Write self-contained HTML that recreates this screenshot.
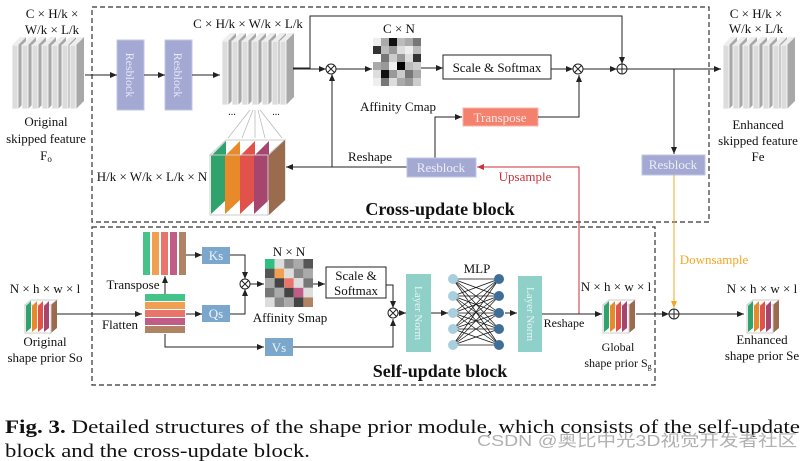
<!DOCTYPE html>
<html><head><meta charset="utf-8"><style>
html,body{margin:0;padding:0;background:#fff;}
svg{display:block;}
text{font-family:"Liberation Serif",serif;fill:#111;}
</style></head><body>
<svg width="807" height="461" viewBox="0 0 807 461" xmlns="http://www.w3.org/2000/svg">
<defs>
<marker id="a" markerWidth="8" markerHeight="8" refX="7" refY="4" orient="auto" markerUnits="userSpaceOnUse"><path d="M0,1 L7,4 L0,7 z" fill="#222"/></marker>
<marker id="ar" markerWidth="8" markerHeight="8" refX="7" refY="4" orient="auto" markerUnits="userSpaceOnUse"><path d="M0,1 L7,4 L0,7 z" fill="#c8323a"/></marker>
<marker id="ao" markerWidth="8" markerHeight="8" refX="7" refY="4" orient="auto" markerUnits="userSpaceOnUse"><path d="M0,1 L7,4 L0,7 z" fill="#f5a623"/></marker>
<g id="slab"><polygon points="0,8 8,0 8,64 0,72" fill="#a8a8a8"/><rect x="-6" y="8" width="6" height="64" fill="#dcdcdc" stroke="#fff" stroke-width="0.8"/><polygon points="-6,8 2,0 8,0 0,8" fill="#eee"/></g>
</defs>

<!-- dashed boxes -->
<rect x="92" y="7" width="617" height="215" fill="none" stroke="#333" stroke-width="1.2" stroke-dasharray="5,3"/>
<rect x="92" y="227" width="563" height="158" fill="none" stroke="#333" stroke-width="1.2" stroke-dasharray="5,3"/>

<!-- top-left stack -->
<g>
<use href="#slab" x="18" y="37"/><use href="#slab" x="28" y="37"/><use href="#slab" x="38" y="37"/><use href="#slab" x="48" y="37"/><use href="#slab" x="58" y="37"/><use href="#slab" x="68" y="37"/><use href="#slab" x="76" y="37"/>
</g>
<text x="52" y="18" font-size="13" text-anchor="middle">C × H/k ×</text>
<text x="52" y="34" font-size="13" text-anchor="middle">W/k × L/k</text>
<text x="46" y="126" font-size="13" text-anchor="middle">Original</text>
<text x="46" y="143" font-size="13" text-anchor="middle">skipped feature</text>
<text x="46" y="160" font-size="13" text-anchor="middle">F<tspan font-size="9" dy="2">o</tspan></text>

<!-- resblocks -->
<rect x="117" y="40" width="27" height="70" fill="#a3a9d3" stroke="#c2c6e4"/>
<text transform="translate(126,75) rotate(90)" font-size="12" text-anchor="middle" style="fill:#e6e8f5">Resblock</text>
<rect x="165" y="40" width="27" height="70" fill="#a3a9d3" stroke="#c2c6e4"/>
<text transform="translate(174,75) rotate(90)" font-size="12" text-anchor="middle" style="fill:#e6e8f5">Resblock</text>
<line x1="85" y1="75" x2="117" y2="75" stroke="#222" marker-end="url(#a)"/>
<line x1="144" y1="75" x2="165" y2="75" stroke="#222" marker-end="url(#a)"/>
<line x1="192" y1="75" x2="220" y2="75" stroke="#222" marker-end="url(#a)"/>

<!-- middle stack -->
<g>
<use href="#slab" x="228" y="33"/><use href="#slab" x="238" y="33"/><use href="#slab" x="248" y="33"/><use href="#slab" x="258" y="33"/><use href="#slab" x="268" y="33"/><use href="#slab" x="278" y="33"/><use href="#slab" x="286" y="33"/>
</g>
<text x="248" y="28" font-size="13" text-anchor="middle">C × H/k × W/k × L/k</text>
<text x="232" y="115" font-size="10" text-anchor="middle">...</text>
<text x="276" y="115" font-size="10" text-anchor="middle">...</text>
<g stroke="#bbb" stroke-width="0.8">
<line x1="250" y1="110" x2="228" y2="138"/><line x1="253" y1="110" x2="242" y2="138"/><line x1="255" y1="110" x2="255" y2="138"/><line x1="258" y1="110" x2="265" y2="138"/><line x1="260" y1="110" x2="282" y2="138"/>
</g>
<!-- colored cube -->
<g stroke="#ccc" stroke-width="1">
<polygon points="210,155 226,140 285,140 268,155" fill="#fff"/>
<polygon points="268,155 285,140 285,200 268,215" fill="#fff"/>
<rect x="210" y="155" width="58" height="60" fill="#fff"/>
</g>
<polygon points="211,156 226,141 226,200 211,214" fill="#2fa36b"/>
<polygon points="225,156 240,141 240,200 225,214" fill="#e88a2a"/>
<polygon points="240,156 255,141 255,200 240,214" fill="#e0524a"/>
<polygon points="254,156 269,141 269,200 254,214" fill="#a6456d"/>
<polygon points="269,155 285,140 285,200 269,215" fill="#9a6b4c"/>
<rect x="210" y="155" width="58" height="60" fill="none" stroke="#ccc"/>
<text x="152" y="181" font-size="13" text-anchor="middle">H/k × W/k × L/k × N</text>

<!-- skip line -->
<polyline points="293,68 310,68 310,16 622,16 622,64" fill="none" stroke="#222" marker-end="url(#a)"/>
<line x1="293" y1="69" x2="326" y2="69" stroke="#222" marker-end="url(#a)"/>
<circle cx="331" cy="69" r="5" fill="#fff" stroke="#222"/><path d="M327.5,65.5 L334.5,72.5 M334.5,65.5 L327.5,72.5" stroke="#222"/>
<line x1="332" y1="167" x2="332" y2="74" stroke="#222" marker-end="url(#a)"/>
<line x1="407" y1="167" x2="286" y2="167" stroke="#222" marker-end="url(#a)"/>
<text x="370" y="161" font-size="13" text-anchor="middle">Reshape</text>
<line x1="336" y1="69" x2="372" y2="69" stroke="#222" marker-end="url(#a)"/>

<!-- Cmap grid -->
<g>
<rect x="373" y="38" width="8" height="8" fill="#eee"/><rect x="381" y="38" width="8" height="8" fill="#aaa"/><rect x="389" y="38" width="8" height="8" fill="#111"/><rect x="397" y="38" width="8" height="8" fill="#bbb"/><rect x="405" y="38" width="8" height="8" fill="#aaa"/><rect x="413" y="38" width="8" height="8" fill="#777"/>
<rect x="373" y="46" width="8" height="8" fill="#333"/><rect x="381" y="46" width="8" height="8" fill="#bbb"/><rect x="389" y="46" width="8" height="8" fill="#999"/><rect x="397" y="46" width="8" height="8" fill="#ddd"/><rect x="405" y="46" width="8" height="8" fill="#eee"/><rect x="413" y="46" width="8" height="8" fill="#bbb"/>
<rect x="373" y="54" width="8" height="8" fill="#fff"/><rect x="381" y="54" width="8" height="8" fill="#777"/><rect x="389" y="54" width="8" height="8" fill="#ccc"/><rect x="397" y="54" width="8" height="8" fill="#999"/><rect x="405" y="54" width="8" height="8" fill="#ddd"/><rect x="413" y="54" width="8" height="8" fill="#333"/>
<rect x="373" y="62" width="8" height="8" fill="#aaa"/><rect x="381" y="62" width="8" height="8" fill="#999"/><rect x="389" y="62" width="8" height="8" fill="#eee"/><rect x="397" y="62" width="8" height="8" fill="#000"/><rect x="405" y="62" width="8" height="8" fill="#bbb"/><rect x="413" y="62" width="8" height="8" fill="#ccc"/>
<rect x="373" y="70" width="8" height="8" fill="#ddd"/><rect x="381" y="70" width="8" height="8" fill="#111"/><rect x="389" y="70" width="8" height="8" fill="#999"/><rect x="397" y="70" width="8" height="8" fill="#ccc"/><rect x="405" y="70" width="8" height="8" fill="#777"/><rect x="413" y="70" width="8" height="8" fill="#aaa"/>
<rect x="373" y="78" width="8" height="8" fill="#eee"/><rect x="381" y="78" width="8" height="8" fill="#777"/><rect x="389" y="78" width="8" height="8" fill="#ddd"/><rect x="397" y="78" width="8" height="8" fill="#aaa"/><rect x="405" y="78" width="8" height="8" fill="#999"/><rect x="413" y="78" width="8" height="8" fill="#ccc"/>
</g>
<text x="399" y="33" font-size="13" text-anchor="middle">C × N</text>
<text x="398" y="111" font-size="13" text-anchor="middle">Affinity Cmap</text>
<line x1="421" y1="68" x2="443" y2="68" stroke="#222" marker-end="url(#a)"/>
<rect x="443" y="55" width="108" height="24" fill="#fff" stroke="#222"/>
<text x="497" y="72" font-size="13" text-anchor="middle">Scale &amp; Softmax</text>
<line x1="551" y1="69" x2="573" y2="69" stroke="#222" marker-end="url(#a)"/>
<circle cx="578" cy="69" r="5" fill="#fff" stroke="#222"/><path d="M574.5,65.5 L581.5,72.5 M581.5,65.5 L574.5,72.5" stroke="#222"/>
<line x1="583" y1="69" x2="617" y2="69" stroke="#222" marker-end="url(#a)"/>
<circle cx="622" cy="69" r="5" fill="#fff" stroke="#222"/><path d="M617,69 H627 M622,64 V74" stroke="#222"/>
<line x1="627" y1="69" x2="721" y2="69" stroke="#222" marker-end="url(#a)"/>
<!-- transpose -->
<rect x="463" y="108" width="75" height="18" fill="#f4806e" stroke="#f9b3a7"/>
<text x="500" y="122" font-size="13" text-anchor="middle" style="fill:#fde8e4">Transpose</text>
<polyline points="538,117 579,117 579,75" fill="none" stroke="#222" marker-end="url(#a)"/>
<polyline points="435,158 435,117 462,117" fill="none" stroke="#222" marker-end="url(#a)"/>
<rect x="407" y="158" width="69" height="19" fill="#a3a9d3" stroke="#c2c6e4"/>
<text x="441" y="172" font-size="13" text-anchor="middle" style="fill:#eceef8">Resblock</text>
<polyline points="579,314 579,167 477,167" fill="none" stroke="#c8323a" marker-end="url(#ar)"/>
<text x="525" y="181" font-size="13" text-anchor="middle" style="fill:#c8323a">Upsample</text>
<text x="440" y="215" font-size="18" font-weight="bold" text-anchor="middle">Cross-update block</text>

<!-- enhanced stack -->
<g>
<use href="#slab" x="729" y="37"/><use href="#slab" x="739" y="37"/><use href="#slab" x="749" y="37"/><use href="#slab" x="759" y="37"/><use href="#slab" x="769" y="37"/><use href="#slab" x="779" y="37"/><use href="#slab" x="787" y="37"/>
</g>
<text x="756" y="18" font-size="13" text-anchor="middle">C × H/k ×</text>
<text x="756" y="33" font-size="13" text-anchor="middle">W/k × L/k</text>
<text x="758" y="129" font-size="13" text-anchor="middle">Enhanced</text>
<text x="758" y="145" font-size="13" text-anchor="middle">skipped feature</text>
<text x="758" y="161" font-size="13" text-anchor="middle">Fe</text>
<line x1="674" y1="69" x2="674" y2="154" stroke="#222" marker-end="url(#a)"/>
<rect x="642" y="155" width="63" height="20" fill="#a3a9d3" stroke="#c2c6e4"/>
<text x="673" y="169" font-size="13" text-anchor="middle" style="fill:#eceef8">Resblock</text>
<line x1="674" y1="175" x2="674" y2="308" stroke="#f5a623" marker-end="url(#ao)"/>
<text x="714" y="264" font-size="13" text-anchor="middle" style="fill:#f5a623">Downsample</text>

<!-- self-update -->
<!-- So cube -->
<g id="sc">
<polygon points="25,305 31,300 57,300 51,305" fill="#fff" stroke="#ccc"/>
<polygon points="51,305 57,300 57,328 51,333" fill="#9a6b4c"/>
<rect x="25" y="305" width="26" height="28" fill="#fff" stroke="#ccc"/>
<polygon points="26,306 31,301 31,328 26,332" fill="#2fa36b"/>
<polygon points="32,306 37,301 37,328 32,332" fill="#e88a2a"/>
<polygon points="38,306 43,301 43,328 38,332" fill="#e0524a"/>
<polygon points="44,306 49,301 49,328 44,332" fill="#a6456d"/>
</g>
<text x="45" y="293" font-size="13" text-anchor="middle">N × h × w × l</text>
<text x="45" y="346" font-size="13" text-anchor="middle">Original</text>
<text x="45" y="362" font-size="13" text-anchor="middle">shape prior So</text>
<line x1="57" y1="314" x2="142" y2="314" stroke="#222" marker-end="url(#a)"/>
<text x="120" y="329" font-size="13" text-anchor="middle">Flatten</text>
<!-- strips -->
<rect x="145" y="294" width="40" height="7" fill="#45c48a"/><rect x="145" y="302" width="40" height="7" fill="#f0a050"/><rect x="145" y="310" width="40" height="7" fill="#e8756c"/><rect x="145" y="318" width="40" height="7" fill="#c05c86"/><rect x="145" y="326" width="40" height="7" fill="#b08462"/>
<rect x="143" y="232" width="7" height="43" fill="#45c48a"/><rect x="152" y="232" width="7" height="43" fill="#f0a050"/><rect x="161" y="232" width="7" height="43" fill="#e8756c"/><rect x="170" y="232" width="7" height="43" fill="#c05c86"/><rect x="179" y="232" width="7" height="43" fill="#b08462"/>
<text x="133" y="289" font-size="13" text-anchor="middle">Transpose</text>
<line x1="165" y1="294" x2="165" y2="276" stroke="#222" marker-end="url(#a)"/>
<line x1="186" y1="255" x2="202" y2="255" stroke="#222" marker-end="url(#a)"/>
<line x1="186" y1="314" x2="202" y2="314" stroke="#222" marker-end="url(#a)"/>
<rect x="202" y="247" width="28" height="17" fill="#7ba7cc"/><text x="216" y="260" font-size="13" text-anchor="middle" style="fill:#eef4fa">Ks</text>
<rect x="202" y="305" width="28" height="17" fill="#7ba7cc"/><text x="216" y="318" font-size="13" text-anchor="middle" style="fill:#eef4fa">Qs</text>
<polyline points="165,334 165,347 264,347" fill="none" stroke="#222" marker-end="url(#a)"/>
<rect x="265" y="338" width="28" height="18" fill="#7ba7cc"/><text x="279" y="352" font-size="13" text-anchor="middle" style="fill:#eef4fa">Vs</text>
<polyline points="230,255 245,255 245,279" fill="none" stroke="#222" marker-end="url(#a)"/>
<polyline points="230,314 245,314 245,289" fill="none" stroke="#222" marker-end="url(#a)"/>
<circle cx="245" cy="284" r="5" fill="#fff" stroke="#222"/><path d="M241.5,280.5 L248.5,287.5 M248.5,280.5 L241.5,287.5" stroke="#222"/>
<line x1="250" y1="284" x2="264" y2="284" stroke="#222" marker-end="url(#a)"/>
<!-- Smap -->
<g>
<rect x="265" y="259" width="9.6" height="9.6" fill="#2fc080"/><rect x="274.6" y="259" width="9.6" height="9.6" fill="#ddd"/><rect x="284.2" y="259" width="9.6" height="9.6" fill="#888"/><rect x="293.8" y="259" width="9.6" height="9.6" fill="#aaa"/><rect x="303.4" y="259" width="9.6" height="9.6" fill="#555"/>
<rect x="265" y="268.6" width="9.6" height="9.6" fill="#555"/><rect x="274.6" y="268.6" width="9.6" height="9.6" fill="#f0a050"/><rect x="284.2" y="268.6" width="9.6" height="9.6" fill="#ddd"/><rect x="293.8" y="268.6" width="9.6" height="9.6" fill="#888"/><rect x="303.4" y="268.6" width="9.6" height="9.6" fill="#aaa"/>
<rect x="265" y="278.2" width="9.6" height="9.6" fill="#aaa"/><rect x="274.6" y="278.2" width="9.6" height="9.6" fill="#444"/><rect x="284.2" y="278.2" width="9.6" height="9.6" fill="#e8756c"/><rect x="293.8" y="278.2" width="9.6" height="9.6" fill="#ddd"/><rect x="303.4" y="278.2" width="9.6" height="9.6" fill="#777"/>
<rect x="265" y="287.8" width="9.6" height="9.6" fill="#777"/><rect x="274.6" y="287.8" width="9.6" height="9.6" fill="#aaa"/><rect x="284.2" y="287.8" width="9.6" height="9.6" fill="#444"/><rect x="293.8" y="287.8" width="9.6" height="9.6" fill="#c05c86"/><rect x="303.4" y="287.8" width="9.6" height="9.6" fill="#ddd"/>
<rect x="265" y="297.4" width="9.6" height="9.6" fill="#ddd"/><rect x="274.6" y="297.4" width="9.6" height="9.6" fill="#888"/><rect x="284.2" y="297.4" width="9.6" height="9.6" fill="#aaa"/><rect x="293.8" y="297.4" width="9.6" height="9.6" fill="#444"/><rect x="303.4" y="297.4" width="9.6" height="9.6" fill="#b08462"/>
</g>
<text x="289" y="256" font-size="13" text-anchor="middle">N × N</text>
<text x="290" y="322" font-size="13" text-anchor="middle">Affinity Smap</text>
<line x1="313" y1="284" x2="325" y2="284" stroke="#222" marker-end="url(#a)"/>
<rect x="326" y="267" width="60" height="31" fill="#fff" stroke="#222"/>
<text x="356" y="280" font-size="13" text-anchor="middle">Scale &amp;</text>
<text x="356" y="295" font-size="13" text-anchor="middle">Softmax</text>
<polyline points="386,285 393,285 393,308" fill="none" stroke="#222" marker-end="url(#a)"/>
<polyline points="293,347 393,347 393,319" fill="none" stroke="#222" marker-end="url(#a)"/>
<circle cx="393" cy="313" r="5" fill="#fff" stroke="#222"/><path d="M389.5,309.5 L396.5,316.5 M396.5,309.5 L389.5,316.5" stroke="#222"/>
<line x1="398" y1="313" x2="406" y2="313" stroke="#222" marker-end="url(#a)"/>
<rect x="406" y="274" width="25" height="78" fill="#8fd0c9"/>
<text transform="translate(415,313) rotate(90)" font-size="11" text-anchor="middle" style="fill:#e8f6f4">Layer Norm</text>
<line x1="431" y1="313" x2="448" y2="313" stroke="#222" marker-end="url(#a)"/>
<text x="477" y="273" font-size="13" text-anchor="middle">MLP</text>
<g stroke="#111" stroke-width="0.7">
<line x1="453" y1="279" x2="499" y2="279"/><line x1="453" y1="279" x2="499" y2="296"/><line x1="453" y1="279" x2="499" y2="313"/><line x1="453" y1="279" x2="499" y2="329"/><line x1="453" y1="279" x2="499" y2="345"/>
<line x1="453" y1="296" x2="499" y2="279"/><line x1="453" y1="296" x2="499" y2="296"/><line x1="453" y1="296" x2="499" y2="313"/><line x1="453" y1="296" x2="499" y2="329"/><line x1="453" y1="296" x2="499" y2="345"/>
<line x1="453" y1="313" x2="499" y2="279"/><line x1="453" y1="313" x2="499" y2="296"/><line x1="453" y1="313" x2="499" y2="313"/><line x1="453" y1="313" x2="499" y2="329"/><line x1="453" y1="313" x2="499" y2="345"/>
<line x1="453" y1="329" x2="499" y2="279"/><line x1="453" y1="329" x2="499" y2="296"/><line x1="453" y1="329" x2="499" y2="313"/><line x1="453" y1="329" x2="499" y2="329"/><line x1="453" y1="329" x2="499" y2="345"/>
<line x1="453" y1="345" x2="499" y2="279"/><line x1="453" y1="345" x2="499" y2="296"/><line x1="453" y1="345" x2="499" y2="313"/><line x1="453" y1="345" x2="499" y2="329"/><line x1="453" y1="345" x2="499" y2="345"/>
</g>
<g fill="#a8cfe0"><circle cx="453" cy="279" r="5"/><circle cx="453" cy="296" r="5"/><circle cx="453" cy="313" r="5"/><circle cx="453" cy="329" r="5"/><circle cx="453" cy="345" r="5"/></g>
<g fill="#3f6e9a"><circle cx="499" cy="279" r="5"/><circle cx="499" cy="296" r="5"/><circle cx="499" cy="313" r="5"/><circle cx="499" cy="329" r="5"/><circle cx="499" cy="345" r="5"/></g>
<line x1="505" y1="313" x2="517" y2="313" stroke="#222" marker-end="url(#a)"/>
<rect x="518" y="276" width="24" height="76" fill="#8fd0c9"/>
<text transform="translate(527,314) rotate(90)" font-size="11" text-anchor="middle" style="fill:#e8f6f4">Layer Norm</text>
<line x1="542" y1="314" x2="602" y2="314" stroke="#222" marker-end="url(#a)"/>
<text x="564" y="327" font-size="12" text-anchor="middle">Reshape</text>
<use href="#sc" x="578" y="0"/>
<text x="616" y="291" font-size="13" text-anchor="middle">N × h × w × l</text>
<text x="618" y="351" font-size="12" text-anchor="middle">Global</text>
<text x="618" y="367" font-size="12" text-anchor="middle">shape prior S<tspan font-size="8" dy="2">g</tspan></text>
<line x1="636" y1="314" x2="669" y2="314" stroke="#222" marker-end="url(#a)"/>
<circle cx="674" cy="314" r="5" fill="#fff" stroke="#222"/><path d="M669,314 H679 M674,309 V319" stroke="#222"/>
<line x1="679" y1="314" x2="744" y2="314" stroke="#222" marker-end="url(#a)"/>
<use href="#sc" x="722" y="0"/>
<text x="762" y="293" font-size="13" text-anchor="middle">N × h × w × l</text>
<text x="762" y="344" font-size="13" text-anchor="middle">Enhanced</text>
<text x="762" y="360" font-size="13" text-anchor="middle">shape prior Se</text>
<text x="440" y="377" font-size="18" font-weight="bold" text-anchor="middle">Self-update block</text>

<!-- caption -->
<text x="5" y="433" font-size="19" textLength="795" lengthAdjust="spacingAndGlyphs"><tspan font-weight="bold">Fig. 3.</tspan> Detailed structures of the shape prior module, which consists of the self-update</text>
<text x="5" y="457" font-size="19" textLength="305" lengthAdjust="spacingAndGlyphs">block and the cross-update block.</text>
<text x="477" y="446" font-size="16" style="fill:#b0b0b0;font-family:'Liberation Sans','Noto Sans CJK SC',sans-serif" textLength="320" lengthAdjust="spacingAndGlyphs">CSDN @奥比中光3D视觉开发者社区</text>
</svg>
</body></html>
